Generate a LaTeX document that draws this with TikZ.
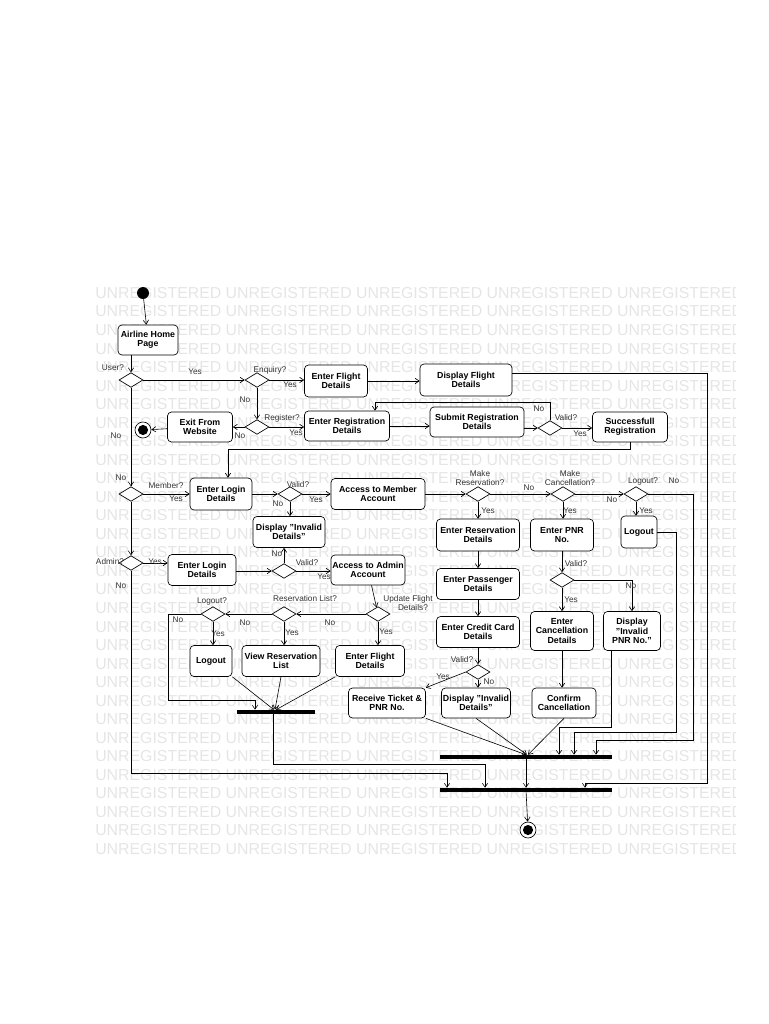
\documentclass[tikz,border=0pt]{standalone}
\usepackage{fontspec}
\setmainfont{Liberation Sans}
\usetikzlibrary{shapes.geometric,arrows.meta,calc}
\newcommand\actnode[6]{\node[act,minimum width=#4*0.75pt,minimum height=#5*0.75pt] (#1) at (#2,#3) {#6};}
\newcommand\dianode[3]{\node[dia] (#1) at (#2,#3) {};}
\newcommand\lbl[4]{\node[lab] (#1) at (#2,#3) {#4};}
\tikzset{
  act/.style={draw, fill=white, rounded corners=3pt, align=center, font=\fontsize{6.6pt}{7pt}\selectfont\bfseries, inner sep=1pt, line width=0.5pt},
  dia/.style={draw, fill=white, diamond, inner sep=0pt, minimum width=18pt, minimum height=11pt, line width=0.5pt},
  lab/.style={font=\fontsize{6.2pt}{6.6pt}\selectfont, inner sep=0.5pt, align=center, text=black!80},
  ar/.style={-{Straight Barb[length=3pt,width=4pt]}, line width=0.45pt},
  ln/.style={line width=0.45pt},
  bar/.style={fill=black, inner sep=0pt, minimum height=3pt},
  fin/.style={draw, circle, fill=white, minimum size=12pt, inner sep=0pt, line width=0.5pt},
}
\begin{document}
\begin{tikzpicture}[x=0.75pt,y=-0.75pt]
\useasboundingbox (0,0) rectangle (768,1024);
% watermark
\begin{scope}
\clip (95,284) rectangle (735,858);
\foreach \i in {0,...,30}{
  \node[anchor=west, inner sep=0pt, text=black!10, font=\fontsize{11.9pt}{12pt}\selectfont] (wm\i) at (95,{293+18.53*\i}) {UNREGISTERED UNREGISTERED UNREGISTERED UNREGISTERED UNREGISTERED};
}
\end{scope}
% nodes
\node[circle, fill=black, minimum size=9pt, inner sep=0pt] (start) at (143,293) {};
\actnode{home}{148}{340}{60}{30}{Airline Home\\Page}
\dianode{user}{131}{380}
\dianode{enq}{257}{380}
\actnode{efd}{336}{381}{63}{32}{Enter Flight\\Details}
\actnode{dfd}{466}{380}{92}{32}{Display Flight\\Details}
\dianode{reg}{257}{427}
\actnode{exit}{200}{427}{65}{30}{Exit From\\Website}
\node[fin] (fin1) at (143,430) {};
\fill (fin1) circle[radius=3.8pt];
\actnode{erd}{347}{426}{85}{30}{Enter Registration\\Details}
\actnode{srd}{477}{422}{94}{30}{Submit Registration\\Details}
\dianode{val1}{550}{428}
\actnode{succ}{630}{427}{75}{30}{Successfull\\Registration}
\dianode{member}{131}{494}
\actnode{login1}{221}{494}{62}{32}{Enter Login\\Details}
\dianode{val2}{290}{494}
\actnode{acm}{378}{494}{94}{31}{Access to Member\\Account}
\actnode{dinv1}{289}{532}{72}{31}{Display "Invalid\\Details"}
\dianode{mr}{478}{494}
\dianode{mc}{563}{494}
\dianode{lo1}{636}{494}
\actnode{erdet}{478}{535}{83}{32}{Enter Reservation\\Details}
\actnode{pnr}{562}{535}{63}{32}{Enter PNR\\No.}
\actnode{logoutR}{639}{532}{36}{32}{Logout}
\dianode{admin}{131}{563}
\actnode{login2}{202}{570}{68}{31}{Enter Login\\Details}
\dianode{val3}{284}{571}
\actnode{aca}{368}{570}{64}{30}{Access to Admin\\Account}
\actnode{epd}{478}{584}{83}{31}{Enter Passenger\\Details}
\dianode{val5}{562}{580}
\dianode{ufd}{378}{614}
\dianode{rl}{284}{614}
\dianode{lo2}{213}{614}
\actnode{eccd}{478}{632}{83}{31}{Enter Credit Card\\Details}
\actnode{ecan}{562}{631}{63}{39}{Enter\\Cancellation\\Details}
\actnode{dpnr}{632}{631}{57}{39}{Display\\"Invalid\\PNR No."}
\actnode{logoutL}{211}{661}{42}{31}{Logout}
\actnode{vrl}{281}{661}{78}{31}{View Reservation\\List}
\actnode{efd2}{370}{661}{69}{31}{Enter Flight\\Details}
\dianode{val4}{478}{672}
\actnode{rtick}{387}{703}{77}{30}{Receive Ticket \&\\PNR No.}
\actnode{dinv2}{476}{703}{69}{30}{Display "Invalid\\Details"}
\actnode{ccan}{564}{703}{64}{30}{Confirm\\Cancellation}
\node[bar, minimum width=78*0.75pt] (barL) at (276,712) {};
\node[bar, minimum width=172*0.75pt] (barU) at (526,757) {};
\node[bar, minimum width=172*0.75pt] (barB) at (526,790) {};
\node[fin] (fin2) at (528,830) {};
\fill (fin2) circle[radius=3.8pt];
% connectors
\draw[ar] (start) -- (home);
\draw[ar] (home.south -| user.north) -- (user);
\draw[ar] (user) -- (enq);
\draw[ln] (user) -- (member);
\draw[ar] (member.north |- 0,470) -- (member);
\draw[ar] (enq) -- (efd.west |- enq);
\draw[ar] (enq) -- (reg);
\draw[ar] (reg) -- (erd.west |- reg);
\draw[ar] (reg) -- (exit);
\draw[ar] (exit) -- (fin1);
\draw[ar] (efd.east) -- (dfd.west |- efd.east);
\draw[ar] (erd.east) -- (srd.west |- erd.east);
\draw[ar] (srd.east |- val1) -- (val1);
\draw[ar] (val1) -- (succ.west |- val1);
\draw[ar] (val1.north) |- (375,402) -- (375,0 |- erd.north);
\draw[ar] (succ.south) |- (228,449) -- (228,0 |- login1.north);
\draw[ar] (dfd.east |- 0,373) -- (707,373) -- (707,783) -- (585,783) -- (585,0 |- barB.north);
\draw[ar] (member) -- (login1.west |- member);
\draw[ar] (member) -- (admin);
\draw[ar] (login1) -- (val2);
\draw[ar] (val2) -- (acm);
\draw[ar] (val2) -- (dinv1.north -| val2);
\draw[ar] (admin) -- (login2.west |- admin);
\draw[ar] (login2.east |- val3) -- (val3);
\draw[ar] (val3) -- (aca.west |- val3);
\draw[ar] (val3) -- (dinv1.south -| val3);
\draw[ar] (admin) |- (447,773) -- (447,0 |- barB.north);
\draw[ar] (acm) -- (mr);
\draw[ar] (mr) -- (mc);
\draw[ar] (mc) -- (lo1);
\draw[ar] (lo1.east) -| (693,740) -- (596,740) -- (596,0 |- barU.north);
\draw[ar] (lo1) -- (logoutR.north -| lo1);
\draw[ar] (logoutR.east) -| (676,732) -- (574,732) -- (574,0 |- barU.north);
\draw[ar] (mr) -- (erdet);
\draw[ar] (erdet) -- (epd);
\draw[ar] (epd) -- (eccd);
\draw[ar] (eccd) -- (val4);
\draw[ar] (val4.west) -- (rtick.north east);
\draw[ar] (val4) -- (dinv2.north -| val4);
\draw[ar] (mc) -- (pnr.north -| mc);
\draw[ar] (pnr) -- (val5);
\draw[ar] (val5) -- (ecan);
\draw[ar] (val5.east) -| (dpnr.north);
\draw[ar] (ecan) -- (ccan.north -| ecan);
\draw[ar] (611,0 |- dpnr.south) -- (611,727) -- (559,727) -- (559,0 |- barU.north);
\draw[ar] (rtick.south east) -- (526,0 |- barU.north);
\draw[ar] (dinv2.south) -- (527,0 |- barU.north);
\draw[ar] (ccan.south) -- (528,0 |- barU.north);
\draw[ar] (aca) -- (ufd);
\draw[ar] (ufd) -- (efd2.north -| ufd);
\draw[ar] (ufd) -- (rl);
\draw[ar] (rl) -- (vrl.north -| rl);
\draw[ar] (rl) -- (lo2);
\draw[ar] (lo2) -- (logoutL.north -| lo2);
\draw[ar] (lo2.west) -| (168,700) -- (255,700) -- (255,0 |- barL.north);
\draw[ar] (logoutL.south east) -- (274,0 |- barL.north);
\draw[ar] (vrl.south) -- (275,0 |- barL.north);
\draw[ar] (efd2.south west) -- (276,0 |- barL.north);
\draw[ar] (273,0 |- barL.south) -- (273,764) -- (485,764) -- (485,0 |- barB.north);
\draw[ar] (barU) -- (barB.north -| barU);
\draw[ar] (barB) -- (fin2);
% labels
\lbl{l1}{113}{368}{User?}
\lbl{l2}{195}{372}{Yes}
\lbl{l3}{116}{436}{No}
\lbl{l4}{270}{370}{Enquiry?}
\lbl{l5}{290}{385}{Yes}
\lbl{l6}{245}{400}{No}
\lbl{l7}{282}{418}{Register?}
\lbl{l8}{296}{433}{Yes}
\lbl{l9}{240}{436}{No}
\lbl{l10}{539}{409}{No}
\lbl{l11}{566}{418}{Valid?}
\lbl{l12}{580}{434}{Yes}
\lbl{l13}{166}{486}{Member?}
\lbl{l14}{176}{499}{Yes}
\lbl{l15}{121}{478}{No}
\lbl{l16}{298}{485}{Valid?}
\lbl{l17}{316}{500}{Yes}
\lbl{l18}{278}{504}{No}
\lbl{l19}{110}{562}{Admin?}
\lbl{l20}{155}{562}{Yes}
\lbl{l21}{121}{586}{No}
\lbl{l22}{277}{554}{No}
\lbl{l23}{307}{563}{Valid?}
\lbl{l24}{324}{577}{Yes}
\lbl{l25}{480}{478}{Make\\Reservation?}
\lbl{l26}{529}{488}{No}
\lbl{l27}{488}{511}{Yes}
\lbl{l28}{570}{478}{Make\\Cancellation?}
\lbl{l29}{612}{500}{No}
\lbl{l30}{570}{511}{Yes}
\lbl{l31}{643}{481}{Logout?}
\lbl{l32}{674}{481}{No}
\lbl{l33}{646}{511}{Yes}
\lbl{l34}{576}{564}{Valid?}
\lbl{l35}{631}{586}{No}
\lbl{l36}{571}{600}{Yes}
\lbl{l37}{462}{660}{Valid?}
\lbl{l38}{443}{677}{Yes}
\lbl{l39}{489}{682}{No}
\lbl{l40}{408}{603}{Update Flight\\\hspace*{1.2em}Details?}
\lbl{l41}{386}{632}{Yes}
\lbl{l42}{330}{623}{No}
\lbl{l43}{305}{599}{Reservation List?}
\lbl{l44}{292}{633}{Yes}
\lbl{l45}{245}{623}{No}
\lbl{l46}{212}{601}{Logout?}
\lbl{l47}{218}{634}{Yes}
\lbl{l48}{178}{620}{No}
\end{tikzpicture}
\end{document}
